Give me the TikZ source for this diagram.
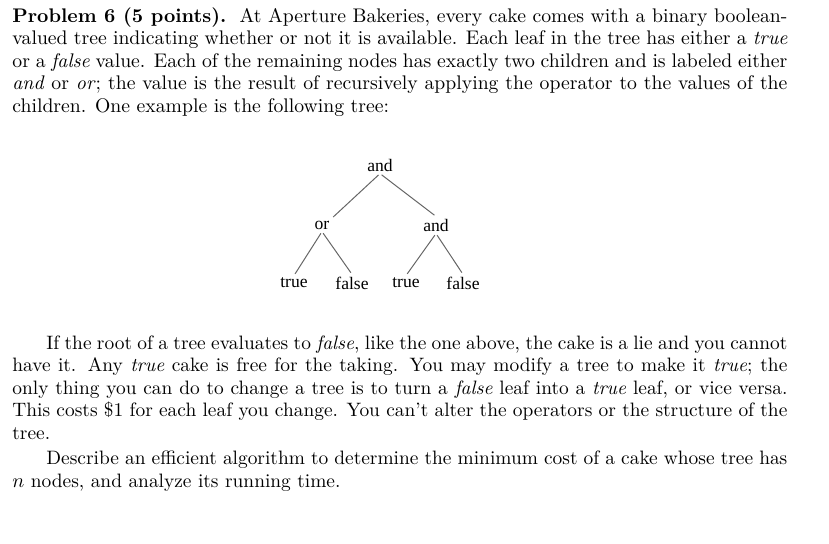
\documentclass[tikz,border=0pt]{standalone}
\usepackage{fontspec}
\newfontfamily\treefont{Liberation Serif}
\begin{document}
\begin{tikzpicture}[x=0.5pt,y=-0.5pt,
  body/.style={anchor=north west,inner sep=0pt,text width=387.5pt,align=justify,font=\fontsize{9.85}{11.25}\selectfont},
  tn/.style={inner sep=1pt,font=\treefont\fontsize{8.8}{10}\selectfont},
  edge/.style={draw=black!60,line width=0.5pt,shorten >=1pt,shorten <=1pt}]
\useasboundingbox (0,0) rectangle (829,544);
\node[body] (p1) at (12,7) {\textbf{Problem 6 (5 points).}\ \ At Aperture Bakeries, every cake comes with a binary boolean-valued tree indicating whether or not it is available. Each leaf in the tree has either a \textit{true} or a \textit{false} value. Each of the remaining nodes has exactly two children and is labeled either \textit{and} or \textit{or}; the value is the result of recursively applying the operator to the values of the children. One example is the following tree:};
\node[tn] (r) at (380,165) {and};
\node[tn] (o) at (322,225) {or};
\node[tn] (a) at (436,225) {and};
\node[tn] (l1) at (294,283) {true};
\node[tn] (l2) at (352,283) {false};
\node[tn] (l3) at (406,283) {true};
\node[tn] (l4) at (463,283) {false};
\draw[edge] (r.south) -- (o.north east);
\draw[edge] (r.south) -- (a.north);
\draw[edge] (o.south) -- (l1.north);
\draw[edge] (o.south) -- (l2.north);
\draw[edge] (a.south) -- (l3.north);
\draw[edge] (a.south) -- (l4.north);
\node[body,font=\fontsize{9.7}{11.25}\selectfont] (p2) at (12,335) {\setlength{\parskip}{1.5pt}\hspace*{17pt}If the root of a tree evaluates to \textit{false}, like the one above, the cake is a lie and you cannot have it. Any \textit{true} cake is free for the taking. You may modify a tree to make it \textit{true}; the only thing you can do to change a tree is to turn a \textit{false} leaf into a \textit{true} leaf, or vice versa. This costs \$1 for each leaf you change. You can't alter the operators or the structure of the tree.\par
\hspace*{17pt}Describe an efficient algorithm to determine the minimum cost of a cake whose tree has $n$ nodes, and analyze its running time.};
\end{tikzpicture}
\end{document}
